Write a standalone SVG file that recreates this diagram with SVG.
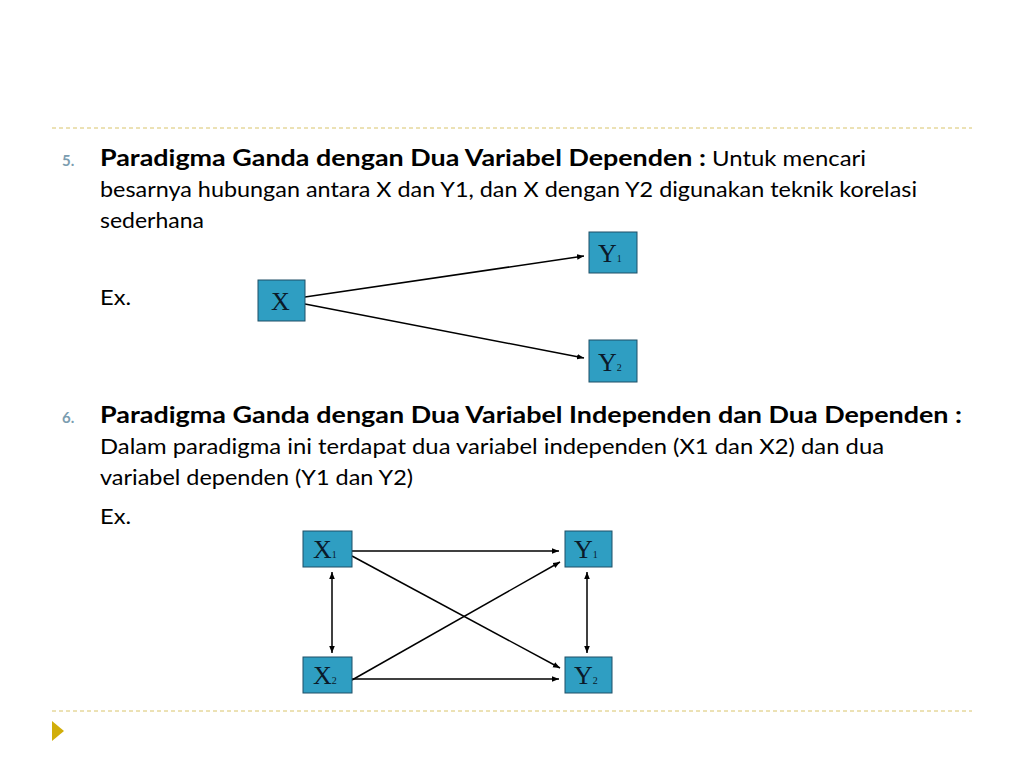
<svg xmlns="http://www.w3.org/2000/svg" width="1024" height="768" viewBox="0 0 1024 768">
<style>
.t{font-family:Lato,"Open Sans",sans-serif;font-size:22px;fill:#000}
.b{font-weight:bold}
.n{font-family:Lato,sans-serif;font-size:15px;font-weight:bold;fill:#7B9DB0}
.box{fill:#2F9EC2;stroke:#1F4F66;stroke-width:1}
.lbl{font-family:"Liberation Serif",serif;font-size:26px;fill:#0a1a2a}
.sub{font-family:"Liberation Serif",serif;font-size:10px;fill:#0a1a2a}
.c{stroke:#000;stroke-width:1.5;fill:none}
.dash{stroke:#D9C46A;stroke-width:1;stroke-dasharray:4,3}
</style>
<defs>
<marker id="ah" viewBox="0 0 10 10" refX="10" refY="5" markerWidth="7" markerHeight="7" orient="auto-start-reverse" markerUnits="userSpaceOnUse">
<path d="M0,1 L10,5 L0,9 z" fill="#000"/>
</marker>
</defs>
<rect width="1024" height="768" fill="#fff"/>
<line class="dash" x1="52" y1="128" x2="972" y2="128"/>
<line class="dash" x1="52" y1="711" x2="972" y2="711"/>
<polygon points="52,721 64,731 52,741" fill="#D1AE0A"/>

<text class="n" x="62" y="166">5.</text>
<text class="t b" x="100" y="166" textLength="606" lengthAdjust="spacingAndGlyphs">Paradigma Ganda dengan Dua Variabel Dependen :</text>
<text class="t" x="712" y="166" textLength="154" lengthAdjust="spacingAndGlyphs">Untuk mencari</text>
<text class="t" x="100" y="197" textLength="817" lengthAdjust="spacingAndGlyphs">besarnya hubungan antara X dan Y1, dan X dengan Y2 digunakan teknik korelasi</text>
<text class="t" x="100" y="228" textLength="104" lengthAdjust="spacingAndGlyphs">sederhana</text>
<text class="t" x="100" y="305" textLength="31" lengthAdjust="spacingAndGlyphs">Ex.</text>

<text class="n" x="62" y="423">6.</text>
<text class="t b" x="100" y="423" textLength="862" lengthAdjust="spacingAndGlyphs">Paradigma Ganda dengan Dua Variabel Independen dan Dua Dependen :</text>
<text class="t" x="100" y="454" textLength="784" lengthAdjust="spacingAndGlyphs">Dalam paradigma ini terdapat dua variabel independen (X1 dan X2) dan dua</text>
<text class="t" x="100" y="485" textLength="313" lengthAdjust="spacingAndGlyphs">variabel dependen (Y1 dan Y2)</text>
<text class="t" x="100" y="524" textLength="31" lengthAdjust="spacingAndGlyphs">Ex.</text>

<g id="connectors">
<line class="c" x1="305" y1="297" x2="584" y2="256" marker-end="url(#ah)"/>
<line class="c" x1="305" y1="304" x2="584" y2="358" marker-end="url(#ah)"/>
<line class="c" x1="352" y1="551" x2="559" y2="551" marker-end="url(#ah)"/>
<line class="c" x1="352" y1="679" x2="559" y2="679" marker-end="url(#ah)"/>
<line class="c" x1="352" y1="556" x2="560" y2="668" marker-end="url(#ah)"/>
<line class="c" x1="352" y1="680" x2="560" y2="562" marker-end="url(#ah)"/>
<line class="c" x1="332" y1="572" x2="332" y2="653" marker-start="url(#ah)" marker-end="url(#ah)"/>
<line class="c" x1="587" y1="572" x2="587" y2="653" marker-start="url(#ah)" marker-end="url(#ah)"/>
</g>

<g id="nodeX"><rect class="box" x="258" y="280" width="47" height="41"/><text class="lbl" x="271" y="310">X</text></g>
<g id="nodeY1a"><rect class="box" x="589" y="232" width="48" height="41"/><text class="lbl" x="598" y="262">Y<tspan class="sub">1</tspan></text></g>
<g id="nodeY2a"><rect class="box" x="589" y="340" width="48" height="42"/><text class="lbl" x="598" y="371">Y<tspan class="sub">2</tspan></text></g>

<g id="nodeX1"><rect class="box" x="303" y="531" width="49" height="36"/><text class="lbl" x="313" y="558">X<tspan class="sub">1</tspan></text></g>
<g id="nodeY1"><rect class="box" x="565" y="531" width="47" height="36"/><text class="lbl" x="574" y="558">Y<tspan class="sub">1</tspan></text></g>
<g id="nodeX2"><rect class="box" x="303" y="657" width="49" height="36"/><text class="lbl" x="313" y="684">X<tspan class="sub">2</tspan></text></g>
<g id="nodeY2"><rect class="box" x="565" y="657" width="47" height="36"/><text class="lbl" x="574" y="684">Y<tspan class="sub">2</tspan></text></g>
</svg>
